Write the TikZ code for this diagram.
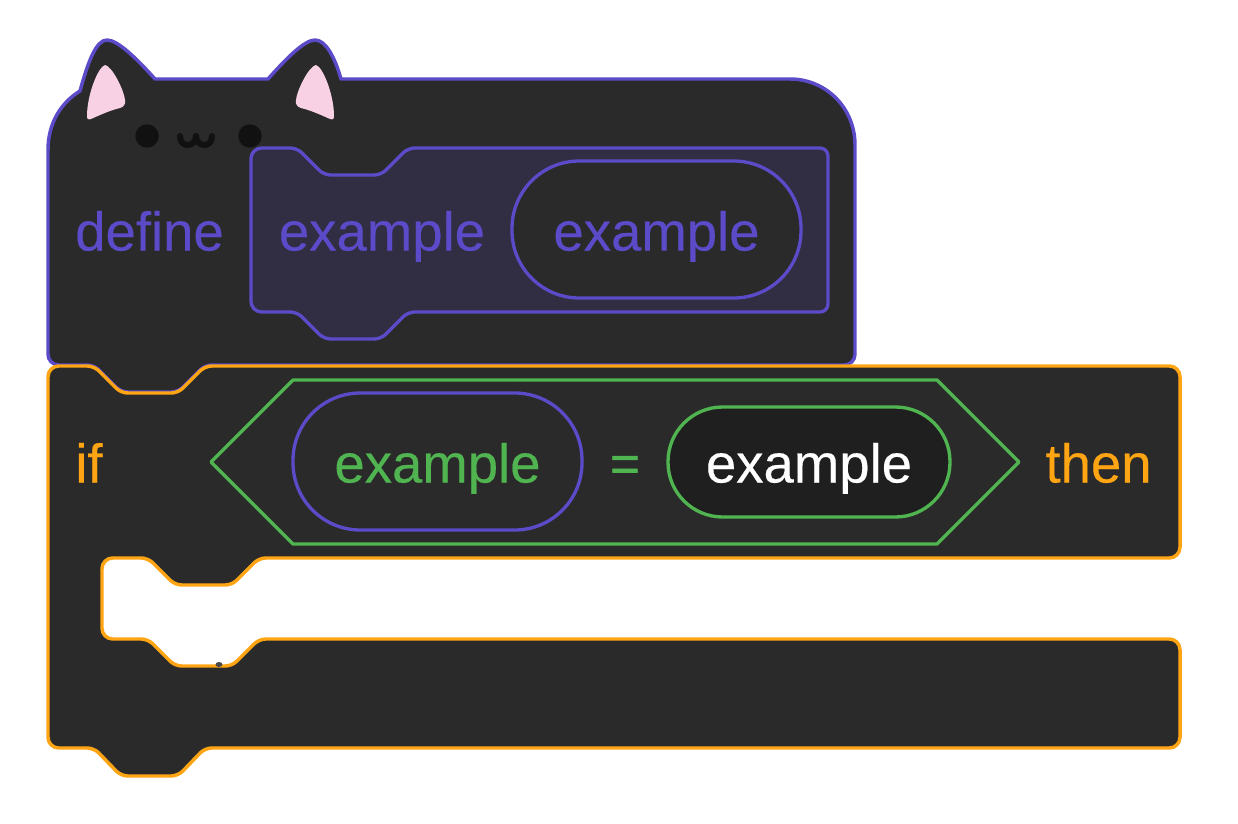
\documentclass[tikz,border=0pt]{standalone}
\usepackage{fontspec}
\setmainfont{Liberation Sans}
\newfontfamily\lblfont[FakeBold=0.25]{Liberation Sans}
\newfontfamily\eqfont[FakeBold=1.1]{Liberation Sans}
\definecolor{blockbg}{HTML}{2A2A2A}
\definecolor{innerbg}{HTML}{312D42}
\definecolor{darkbg}{HTML}{1F1F1F}
\definecolor{purp}{HTML}{5B4BC8}
\definecolor{orng}{HTML}{FFA514}
\definecolor{grn}{HTML}{50B550}
\definecolor{earpink}{HTML}{F8D2E4}
\definecolor{facedark}{HTML}{111111}
\tikzset{
  blockline/.style={line width=2.6pt,fill=blockbg,line join=round},
  thinline/.style={line width=2.5pt,line join=round},
  lbl/.style={font=\lblfont\fontsize{40.9pt}{40.9pt}\selectfont,inner sep=0pt,anchor=base}
}
\begin{document}
\begin{tikzpicture}[x=0.75pt,y=-0.75pt]
\useasboundingbox (0,0) rectangle (1238,824);
% hat block
\draw[blockline,draw=purp]
  (80,91) .. controls (88,62) and (96,40) .. (107,40)
  .. controls (118,40) and (138,60) .. (155,79)
  -- (268,79)
  .. controls (285,60) and (304,40) .. (315,40)
  .. controls (326,40) and (335,58) .. (341,79)
  -- (790,79)
  .. controls (826,79) and (855,108) .. (855,145)
  [rounded corners=8pt] -- (855,365)
  [rounded corners=5pt] -- (205,365) -- (178,392) -- (121,392) -- (94,365)
  [rounded corners=8pt] -- (48,365) [sharp corners] -- (48,150)
  .. controls (48,122) and (62,102) .. (80,91) -- cycle;
% ears
\fill[earpink] (105,65) .. controls (112,66) and (124,90) .. (125,100)
  .. controls (126,105) and (123,107) .. (120,108)
  .. controls (108,111) and (98,116) .. (91,119)
  .. controls (88,120) and (87,119) .. (87,116)
  .. controls (87,95) and (98,67) .. (105,65) -- cycle;
\fill[earpink] (316,65) .. controls (309,66) and (297,90) .. (296,100)
  .. controls (295,105) and (298,107) .. (301,108)
  .. controls (313,111) and (323,116) .. (330,119)
  .. controls (333,120) and (334,119) .. (334,116)
  .. controls (334,95) and (323,67) .. (316,65) -- cycle;
% face
\fill[facedark] (147,136) circle[radius=11.7];
\fill[facedark] (250,136) circle[radius=11.7];
\draw[facedark,line width=4.5pt,line cap=round,line join=round]
  (180,136) .. controls (180,149) and (196,147) .. (196,136)
  .. controls (196,147) and (212,149) .. (212,136);
% define argument
\draw[thinline,draw=purp,fill=innerbg]
  [rounded corners=8pt] (251,230) -- (251,148)
  [rounded corners=5pt] -- (297,148) -- (324,175) -- (381,175) -- (408,148)
  [rounded corners=6pt] -- (828,148) -- (828,312)
  [rounded corners=5pt] -- (408,312) -- (381,339) -- (324,339) -- (297,312)
  [rounded corners=8pt] -- (251,312) -- cycle;
\draw[thinline,draw=purp,fill=blockbg,rounded corners=50.5pt] (512,161) rectangle (801,298);
% if block
\draw[blockline,draw=orng]
  [rounded corners=8pt] (48,450) -- (48,366)
  [rounded corners=5pt] -- (94,366) -- (121,393) -- (178,393) -- (205,366)
  [rounded corners=8pt] -- (1180,366) -- (1180,558)
  [rounded corners=5pt] -- (259,558) -- (232,585) -- (175,585) -- (148,558)
  [rounded corners=8pt] -- (102,558) -- (102,639)
  [rounded corners=5pt] -- (148,639) -- (175,666) -- (232,666) -- (259,639)
  [rounded corners=8pt] -- (1180,639) -- (1180,748)
  [rounded corners=5pt] -- (205,748) -- (178,776) -- (121,776) -- (94,748)
  [rounded corners=8pt] -- (48,748) -- cycle;
\fill[blockbg!85!white] (219,664.5) ellipse[x radius=3.5,y radius=2.5];
% condition
\draw[thinline,draw=grn] (211,462) -- (293,380) -- (937,380) -- (1019,462) -- (937,544) -- (293,544) -- cycle;
\draw[thinline,draw=purp,rounded corners=50.5pt] (293,393) rectangle (582,530);
\draw[thinline,draw=grn,fill=darkbg,rounded corners=41pt] (668,407) rectangle (950,517);
% labels
\node[lbl,text=purp] (tdefine) at (149.5,250.5) {define};
\node[lbl,text=purp] (targa) at (382,250.5) {example};
\node[lbl,text=purp] (targb) at (656.5,250.5) {example};
\node[lbl,text=orng] (tif) at (89,482.5) {if};
\node[lbl,text=grn] (tvar) at (437.5,482.5) {example};
\node[lbl,text=grn,font=\eqfont\fontsize{38pt}{38pt}\selectfont] (teq) at (625,481) {=};
\node[lbl,text=white] (tval) at (809,482.5) {example};
\node[lbl,text=orng] (tthen) at (1098.5,482.5) {then};
\end{tikzpicture}
\end{document}
